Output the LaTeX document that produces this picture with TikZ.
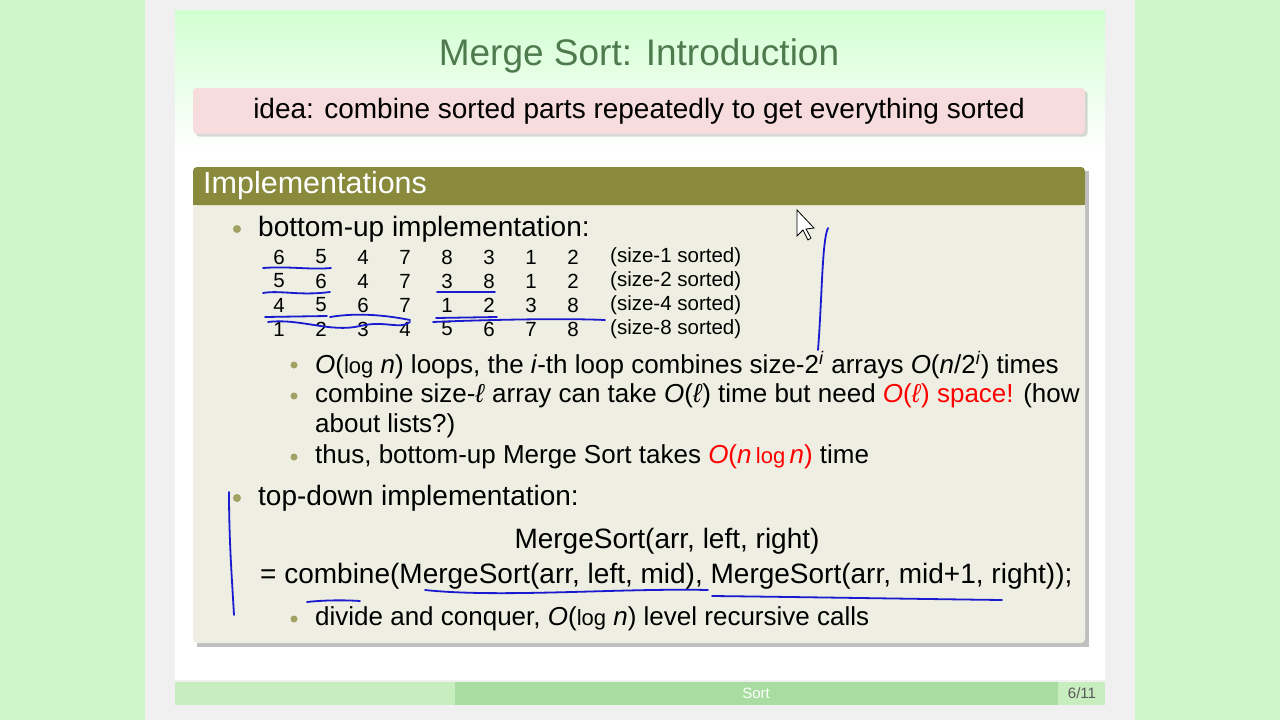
\documentclass[tikz,border=0pt]{standalone}
\usepackage{fontspec}
\setmainfont{Liberation Sans}
\usetikzlibrary{shadows}
\definecolor{bggreen}{HTML}{CCF5CC}
\definecolor{olive}{HTML}{8A8A3C}
\definecolor{blockbg}{HTML}{EEEEE2}
\definecolor{ideabg}{HTML}{F6DCDC}
\definecolor{titlec}{HTML}{4E7A4E}
\definecolor{pen}{HTML}{1A1AD0}
\definecolor{barl}{HTML}{C8EEC0}
\definecolor{barm}{HTML}{A8DCA0}
\newcommand{\mi}[1]{\textit{#1}}
\newcommand{\lgw}{{\fontsize{22}{26}\selectfont log}}
\tikzset{
  txt/.style={anchor=west,inner sep=0pt,font=\fontsize{28}{32}\selectfont},
  stxt/.style={anchor=west,inner sep=0pt,font=\fontsize{26}{30}\selectfont},
  num/.style={inner sep=0pt,font=\fontsize{20.5}{23}\selectfont},
  dotb/.style={circle,fill=olive!80,inner sep=0pt,minimum size=8pt},
  ink/.style={pen,line width=1.8pt,line cap=round,line join=round},
}
\begin{document}
\begin{tikzpicture}[x=1pt,y=-1pt]
\useasboundingbox (0,0) rectangle (1280,720);
\fill[bggreen] (0,0) rectangle (1280,720);
\fill[gray!12] (145,0) rectangle (1135,720);
\fill[white] (175,10) rectangle (1105,680);
\shade[top color=green!18,bottom color=white] (175,10) rectangle (1105,150);
\node[inner sep=0pt,text=titlec,font=\fontsize{37}{40}\selectfont] (title) at (639,56) {Merge Sort: Introduction};
\node[draw=none,fill=ideabg,rounded corners=4pt,minimum width=892pt,minimum height=46pt,drop shadow={opacity=0.3},font=\fontsize{28}{32}\selectfont] (idea) at (639,111) {idea: combine sorted parts repeatedly to get everything sorted};
\fill[black,opacity=0.25] (197,171) rectangle (1089,647);
\fill[blockbg,rounded corners=4pt] (193,167) rectangle (1085,643);
\fill[olive,rounded corners=4pt] (193,167) rectangle (1085,205);
\fill[olive] (193,190) rectangle (1085,205);
\node[txt,text=white,font=\fontsize{30.5}{34}\selectfont] (imp) at (203,186) {Implementations};
\node[dotb] (b1) at (237,229) {};
\node[txt] (bu) at (258,229) {bottom-up implementation:};
\foreach \row/\y/\lab in {{6,5,4,7,8,3,1,2}/257/1,{5,6,4,7,3,8,1,2}/281/2,{4,5,6,7,1,2,3,8}/305/4,{1,2,3,4,5,6,7,8}/329/8}{
  \foreach \v [count=\i] in \row { \node[num] (n\lab-\i) at ({237+42*\i},\y) {\v}; }
  \node[num,anchor=west] (l\lab) at (610,\y) {(size-\lab\ sorted)};
}
\node[dotb,minimum size=7pt] (s1) at (294,365) {};
\node[stxt] (t1) at (315,365) {\mi{O}(\lgw\ \mi{n}) loops, the \mi{i}-th loop combines size-2\textsuperscript{\mi{i}} arrays \mi{O}(\mi{n}/2\textsuperscript{\mi{i}}) times};
\node[dotb,minimum size=7pt] (s2) at (294,396) {};
\node[stxt] (t2) at (315,396) {combine size-\mi{ℓ} array can take \mi{O}(\mi{ℓ}) time but need \textcolor{red}{\mi{O}(\mi{ℓ}) space!} (how};
\node[stxt] (t2b) at (315,426) {about lists?)};
\node[dotb,minimum size=7pt] (s3) at (294,457) {};
\node[stxt] (t3) at (315,457) {thus, bottom-up Merge Sort takes \textcolor{red}{\mi{O}(\mi{n}\,\lgw\,\mi{n})} time};
\node[dotb] (b2) at (237,498) {};
\node[txt] (td) at (258,498) {top-down implementation:};
\node[inner sep=0pt,font=\fontsize{28}{32}\selectfont] (ms) at (667,541) {MergeSort(arr, left, right)};
\node[txt] (comb) at (260,576) {= combine(MergeSort(arr, left, mid), MergeSort(arr, mid+1, right));};
\node[dotb,minimum size=7pt] (s4) at (294,619) {};
\node[stxt] (t4) at (315,619) {divide and conquer, \mi{O}(\lgw\ \mi{n}) level recursive calls};
\fill[barl] (175,682) rectangle (455,705);
\fill[barm] (455,682) rectangle (1058,705);
\fill[barl] (1058,682) rectangle (1105,705);
\node[inner sep=0pt,text=white,font=\fontsize{15}{17}\selectfont] (ft) at (756,693) {Sort};
\node[inner sep=0pt,text=gray!70!black,font=\fontsize{15}{17}\selectfont] (pg) at (1082,693) {6/11};
\draw[ink] (263,268) .. controls (290,266) and (310,270) .. (331,268);
\draw[ink] (263,293) .. controls (280,290) and (300,296) .. (330,292);
\draw[ink] (437,292) -- (495,292);
\draw[ink] (265,317) -- (327,316);
\draw[ink] (330,317) .. controls (360,312) and (390,316) .. (410,320);
\draw[ink] (436,318) -- (497,317);
\draw[ink] (268,322) .. controls (300,318) and (330,333) .. (360,326) .. controls (385,320) and (400,330) .. (410,322);
\draw[ink] (433,322) .. controls (480,320) and (560,318) .. (605,320);
\draw[ink] (828,228) .. controls (822,240) and (822,300) .. (818,350);
\draw[ink] (229,492) .. controls (229,540) and (232,580) .. (234,615);
\draw[ink] (307,602) .. controls (325,600) and (345,600) .. (360,601);
\draw[ink] (425,590) .. controls (500,598) and (620,588) .. (708,590);
\draw[ink] (712,596) .. controls (800,597) and (920,599) .. (1002,600);
\draw[fill=white,line width=0.8pt] (797,210) -- (797,236) -- (803,230) -- (808,240) -- (811,238) -- (806,229) -- (814,228) -- cycle;
\end{tikzpicture}
\end{document}
